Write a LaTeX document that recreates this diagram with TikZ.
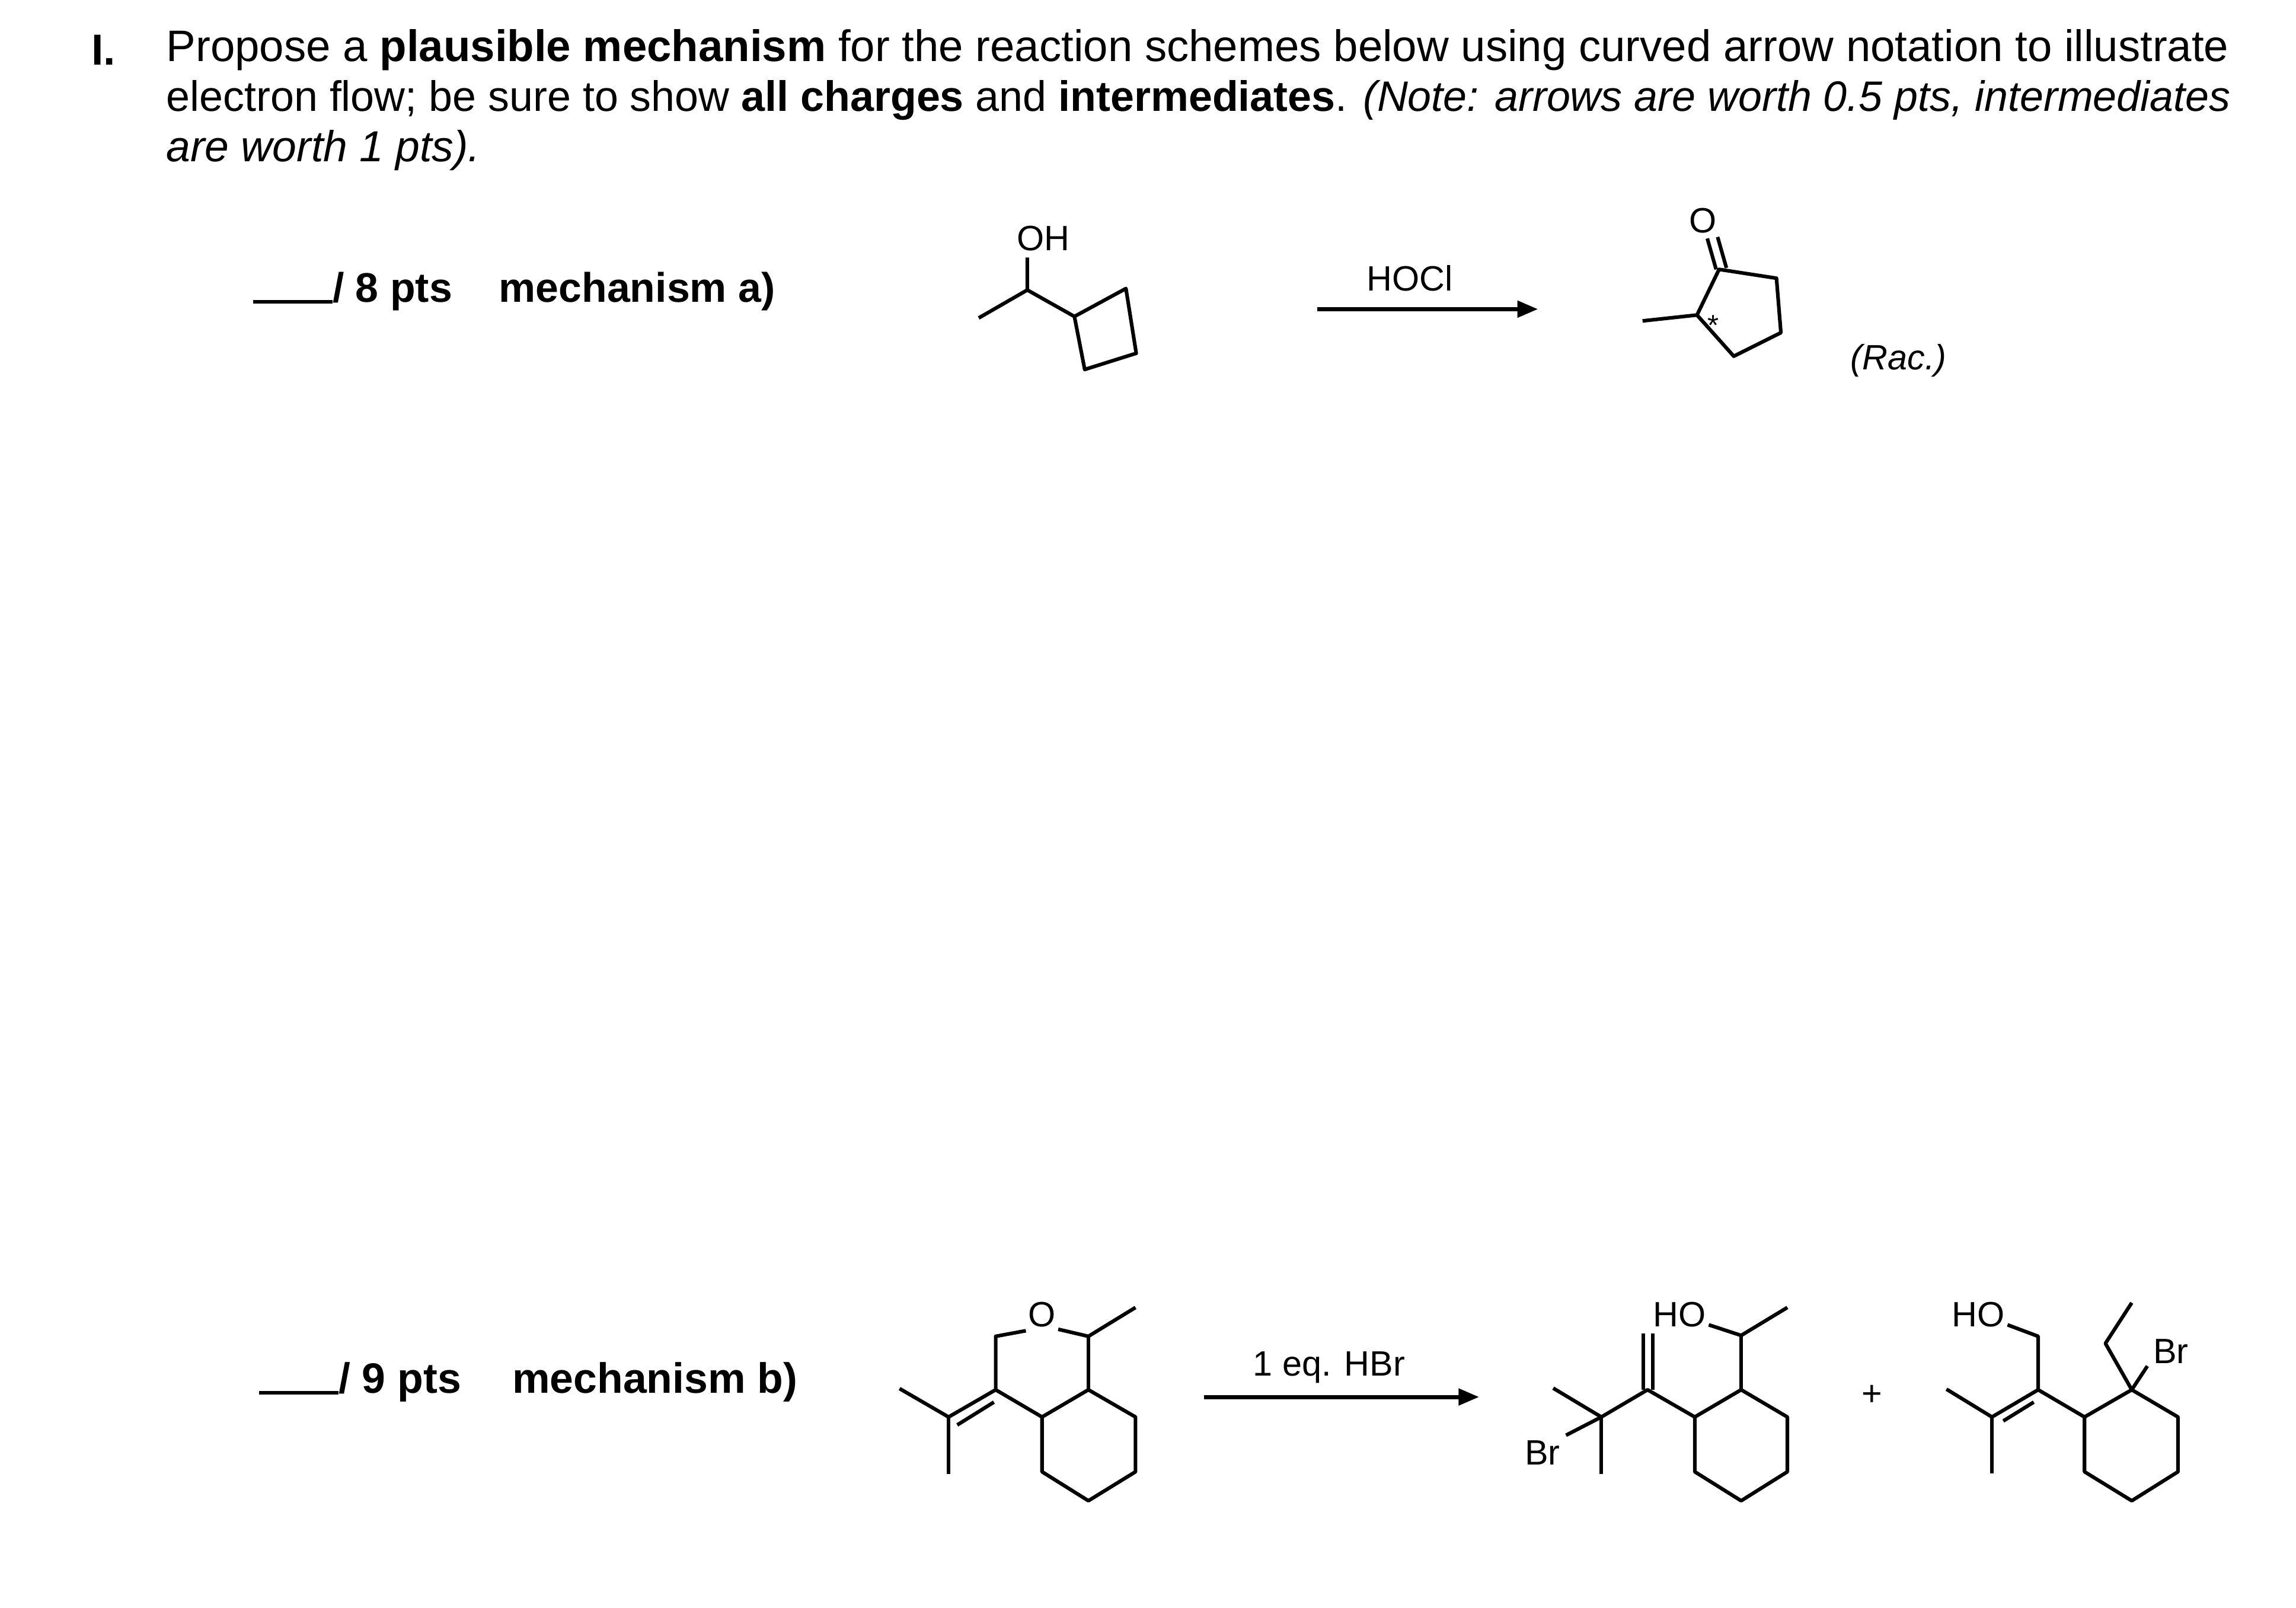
\documentclass[tikz,border=0pt]{standalone}
\usepackage{fontspec}
\setmainfont{Liberation Sans}
\usetikzlibrary{arrows.meta}
\tikzset{bd/.style={line width=7pt,line join=round},
 txt/.style={inner sep=0pt,anchor=west,font=\fontsize{84}{96}\selectfont},
 lab/.style={inner sep=0pt,font=\fontsize{68}{80}\selectfont},
 rx/.style={line width=8pt,-{Triangle[length=1.4cm,width=1.1cm]}}}
\begin{document}
\begin{tikzpicture}[x=0.1cm,y=-0.1cm]
\useasboundingbox (0,0) rectangle (1560,1092);
\node[txt] (n1) at (62,34) {\textbf{I.}};
\node[txt,font=\fontsize{85.3}{96}\selectfont] (l1) at (113,34) {Propose a \textbf{plausible mechanism} for the reaction schemes below using curved arrow notation to illustrate};
\node[txt,font=\fontsize{82.3}{96}\selectfont] (l2) at (113,68) {electron flow; be sure to show \textbf{all charges} and \textbf{intermediates}. \textit{(Note: arrows are worth 0.5 pts, intermediates}};
\node[txt] (l3) at (113,102) {\textit{are worth 1 pts).}};
\node[txt,font=\fontsize{80}{96}\selectfont] (pa) at (172,198) {\rule[-0.1cm]{5.4cm}{0.25cm}\textbf{/ 8 pts}};
\node[txt,font=\fontsize{80}{96}\selectfont] (ma) at (339,198) {\textbf{mechanism a)}};
\node[txt,font=\fontsize{82}{96}\selectfont] (pb) at (176,939) {\rule[-0.1cm]{5.4cm}{0.25cm}\textbf{/ 9 pts}};
\node[txt,font=\fontsize{82}{96}\selectfont] (mb) at (348,939) {\textbf{mechanism b)}};
% molecule a
\node[lab] (oh) at (709,162) {OH};
\draw[bd] (698,175) -- (698,197) -- (665,216);
\draw[bd] (698,197) -- (730,215);
\draw[bd] (730,215) -- (765,196) -- (772,240) -- (737,251) -- cycle;
\coordinate (a1) at (895,210); \coordinate (a2) at (1045,210);
\draw[rx] (a1) -- (a2);
\node[lab] (hocl) at (958,189) {HOCl};
\node[lab] (o2) at (1157,150) {O};
\draw[bd] (1168,183) -- (1207,189) -- (1210,226) -- (1178,242) -- (1153,214) -- cycle;
\draw[bd] (1153,214) -- (1116,218);
\draw[bd] (1166,183) -- (1160,162);
\draw[bd] (1173,182) -- (1167,161);
\node[inner sep=0pt,font=\fontsize{56}{56}\selectfont] (st) at (1164,221) {*};
\node[lab] (rac) at (1290,245) {\textit{(Rac.)}};
% molecule b SM
\node[lab] (o3) at (708,893) {O};
\draw[bd] (697,904) -- (676.5,907.8) -- (676.5,944.1) -- (644.5,962.6) -- (611.2,943.3);
\draw[bd] (644.5,962.6) -- (644.5,1001.2);
\draw[bd] (650.4,968) -- (675.3,952.5);
\draw[bd] (676.5,944.1) -- (708,962.6);
\draw[bd] (719,903) -- (739.5,907.8) -- (771.5,888.2);
\draw[bd] (739.5,907.8) -- (739.5,944.1);
\draw[bd] (739.5,944.1) -- (771.5,962.6) -- (771.5,999.8) -- (739.5,1019.5) -- (708,999.8) -- (708,962.6) -- cycle;
\coordinate (b1) at (818,949); \coordinate (b2) at (1005,949);
\draw[rx] (b1) -- (b2);
\node[lab] (hbr) at (903,929) {1 eq. HBr};
% product 1
\node[lab] (ho1) at (1141,893) {HO};
\draw[bd] (1161,900) -- (1183,907.2) -- (1214.4,888.2);
\draw[bd] (1183,907.2) -- (1183,944.1);
\draw[bd] (1183,944.1) -- (1214.4,962.6) -- (1214.4,999.8) -- (1183,1019.5) -- (1151.5,999.8) -- (1151.5,962.6) -- cycle;
\draw[bd] (1151.5,962.6) -- (1119.4,944.1) -- (1088,962.6) -- (1055.3,943);
\draw[bd] (1088,962.6) -- (1088,1001.2);
\draw[bd] (1088,962.6) -- (1064,975);
\draw[bd] (1116.5,944) -- (1116.5,906);
\draw[bd] (1123,944) -- (1123,906);
\node[lab] (br1) at (1048,987) {Br};
\node[lab] (plus) at (1272,948) {+};
% product 2
\node[lab] (ho2) at (1344,893) {HO};
\draw[bd] (1364,900) -- (1384.8,907.8) -- (1384.8,944.1) -- (1353.4,962.6) -- (1322.5,943.7);
\draw[bd] (1353.4,962.6) -- (1353.4,1001);
\draw[bd] (1361.1,965.3) -- (1381.8,952.5);
\draw[bd] (1384.8,944.1) -- (1416.3,962.6);
\draw[bd] (1416.3,962.6) -- (1416.3,999.8) -- (1448.4,1019.5) -- (1479.8,999.8) -- (1479.8,962.6) -- (1448.4,944.1) -- cycle;
\draw[bd] (1448.4,944.1) -- (1430.5,912.6) -- (1448.4,885);
\draw[bd] (1448.4,944.1) -- (1459,928);
\node[lab] (br2) at (1475,918) {Br};
\end{tikzpicture}
\end{document}
